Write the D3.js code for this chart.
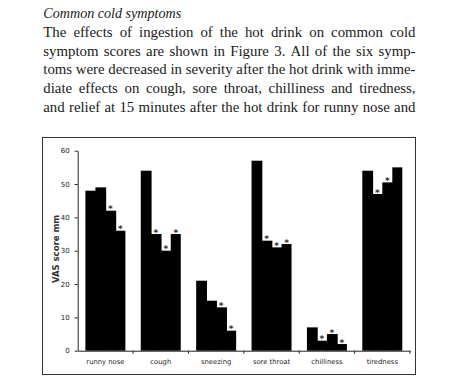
<!DOCTYPE html>
<html>
<head>
<meta charset="utf-8">
<script src="https://cdn.jsdelivr.net/npm/d3@7"></script>
<style>
  html, body { margin: 0; padding: 0; background: #ffffff; }
  svg { display: block; }
</style>
</head>
<body>
<svg id="chart" width="466" height="381"></svg>
<script>
// ---- data ----
const titleText = "Common cold symptoms";
const paragraphLines = [
  "The effects of ingestion of the hot drink on common cold",
  "symptom scores are shown in Figure 3. All of the six symp-",
  "toms were decreased in severity after the hot drink with imme-",
  "diate effects on cough, sore throat, chilliness and tiredness,",
  "and relief at 15 minutes after the hot drink for runny nose and"
];
const categories = ["runny nose", "cough", "sneezing", "sore throat", "chilliness", "tiredness"];
const seriesNames = ["before", "immediately", "15 min", "30 min"];
const before      = [48, 54, 21, 57, 7, 54];
const immediately = [49, 35, 15, 33, 3, 47];
const after15     = [42, 30, 13, 31, 5, 50.5];
const after30     = [36, 35, 6, 32, 2, 55];
const sigBefore      = [false, false, false, false, false, false];
const sigImmediately = [false, true, false, true, true, true];
const sigAfter15     = [true, true, true, true, true, true];
const sigAfter30     = [true, true, true, true, true, false];
const yTicks = [0, 10, 20, 30, 40, 50, 60];
const yLabel = "VAS score mm";

const seriesValues = [before, immediately, after15, after30];
const seriesSig = [sigBefore, sigImmediately, sigAfter15, sigAfter30];

const svg = d3.select("#chart");

// ---- paragraph text ----
const textLeft = 43.3, textRight = 415.5;
const serif = "'Liberation Serif', 'Times New Roman', serif";
const txtColor = "#1a1a1a";
svg.append("text")
  .attr("x", textLeft).attr("y", 17.5)
  .attr("font-family", serif).attr("font-style", "italic")
  .attr("font-size", 15.5).attr("fill", txtColor)
  .attr("textLength", 138).attr("lengthAdjust", "spacingAndGlyphs")
  .text(titleText);

// find font size so the tight line fits
const probe = svg.append("text").attr("font-family", serif).attr("font-size", 14).text(paragraphLines[2]);
const w14 = probe.node().getComputedTextLength();
probe.remove();
const fs = Math.min(15.5, 14 * (textRight - textLeft) / w14);
const baselines = [36.8, 55.5, 74.3, 93, 111.8];

paragraphLines.forEach((line, i) => {
  const words = line.split(" ");
  const g = svg.append("g");
  const widths = words.map(w => {
    const t = g.append("text").attr("font-family", serif).attr("font-size", fs).text(w);
    const wd = t.node().getComputedTextLength();
    t.remove();
    return wd;
  });
  const total = d3.sum(widths);
  const gap = (textRight - textLeft - total) / (words.length - 1);
  let x = textLeft;
  words.forEach((w, j) => {
    g.append("text")
      .attr("x", x).attr("y", baselines[i])
      .attr("font-family", serif).attr("font-size", fs)
      .attr("fill", txtColor).text(w);
    x += widths[j] + gap;
  });
});

// ---- chart frame ----
svg.append("rect")
  .attr("x", 42.5).attr("y", 137.5).attr("width", 373).attr("height", 237)
  .attr("fill", "#ffffff").attr("stroke", "#333").attr("stroke-width", 1);

const plotLeft = 77.7, plotRight = 410, plotTop = 150.7, plotBottom = 350.7;
const sans = "'DejaVu Sans', Verdana, sans-serif";

const x = d3.scaleBand().domain(categories).range([plotLeft, plotRight]).paddingInner(0).paddingOuter(0);
const x1 = d3.scaleBand().domain(seriesNames).range([0, x.bandwidth()]).paddingInner(0).paddingOuter(0.77);
const y = d3.scaleLinear().domain([0, 60]).range([plotBottom, plotTop]);

// bars
const barData = [];
categories.forEach((c, ci) => {
  seriesNames.forEach((s, si) => {
    barData.push({ c, s, si, v: seriesValues[si][ci], sig: seriesSig[si][ci] });
  });
});
svg.append("g").selectAll("rect").data(barData).join("rect")
  .attr("x", d => x(d.c) + x1(d.s))
  .attr("y", d => y(d.v))
  .attr("width", d => x1.bandwidth() + (d.si < 3 ? 0.8 : 0))
  .attr("height", d => y(0) - y(d.v))
  .attr("fill", "#000");

// asterisks
svg.append("g").selectAll("text").data(barData.filter(d => d.sig)).join("text")
  .attr("x", d => x(d.c) + x1(d.s) + x1.bandwidth() / 2)
  .attr("y", d => y(d.v) + 1.5)
  .attr("text-anchor", "middle")
  .attr("font-family", sans).attr("font-size", 9).attr("font-weight", "bold")
  .attr("fill", "#333").text("*");

// y axis
const yAxis = svg.append("g").attr("transform", `translate(${plotLeft},0)`)
  .call(d3.axisLeft(y).tickValues(yTicks).tickSize(3).tickSizeOuter(0).tickPadding(5));
yAxis.selectAll("text").attr("font-family", sans).attr("font-size", 7).attr("fill", "#222");
yAxis.selectAll("line, path").attr("stroke", "#222");

// x axis
const xAxis = svg.append("g").attr("transform", `translate(0,${plotBottom})`)
  .call(d3.axisBottom(x).tickSize(0).tickSizeOuter(0).tickPadding(8.5));
xAxis.selectAll("text").attr("font-family", sans).attr("font-size", 6.8).attr("fill", "#222");
xAxis.select("path").attr("stroke", "#222");
xAxis.selectAll(".boundary").data(categories).join("line")
  .attr("class", "boundary")
  .attr("x1", c => x(c) + x.bandwidth()).attr("x2", c => x(c) + x.bandwidth())
  .attr("y1", 0).attr("y2", 3).attr("stroke", "#222");

// y label
svg.append("text")
  .attr("transform", `translate(56,249) rotate(-90)`)
  .attr("text-anchor", "middle").attr("dominant-baseline", "central")
  .attr("font-family", sans).attr("font-size", 8.5).attr("font-weight", "bold")
  .attr("fill", "#333").text(yLabel);
</script>
</body>
</html>
